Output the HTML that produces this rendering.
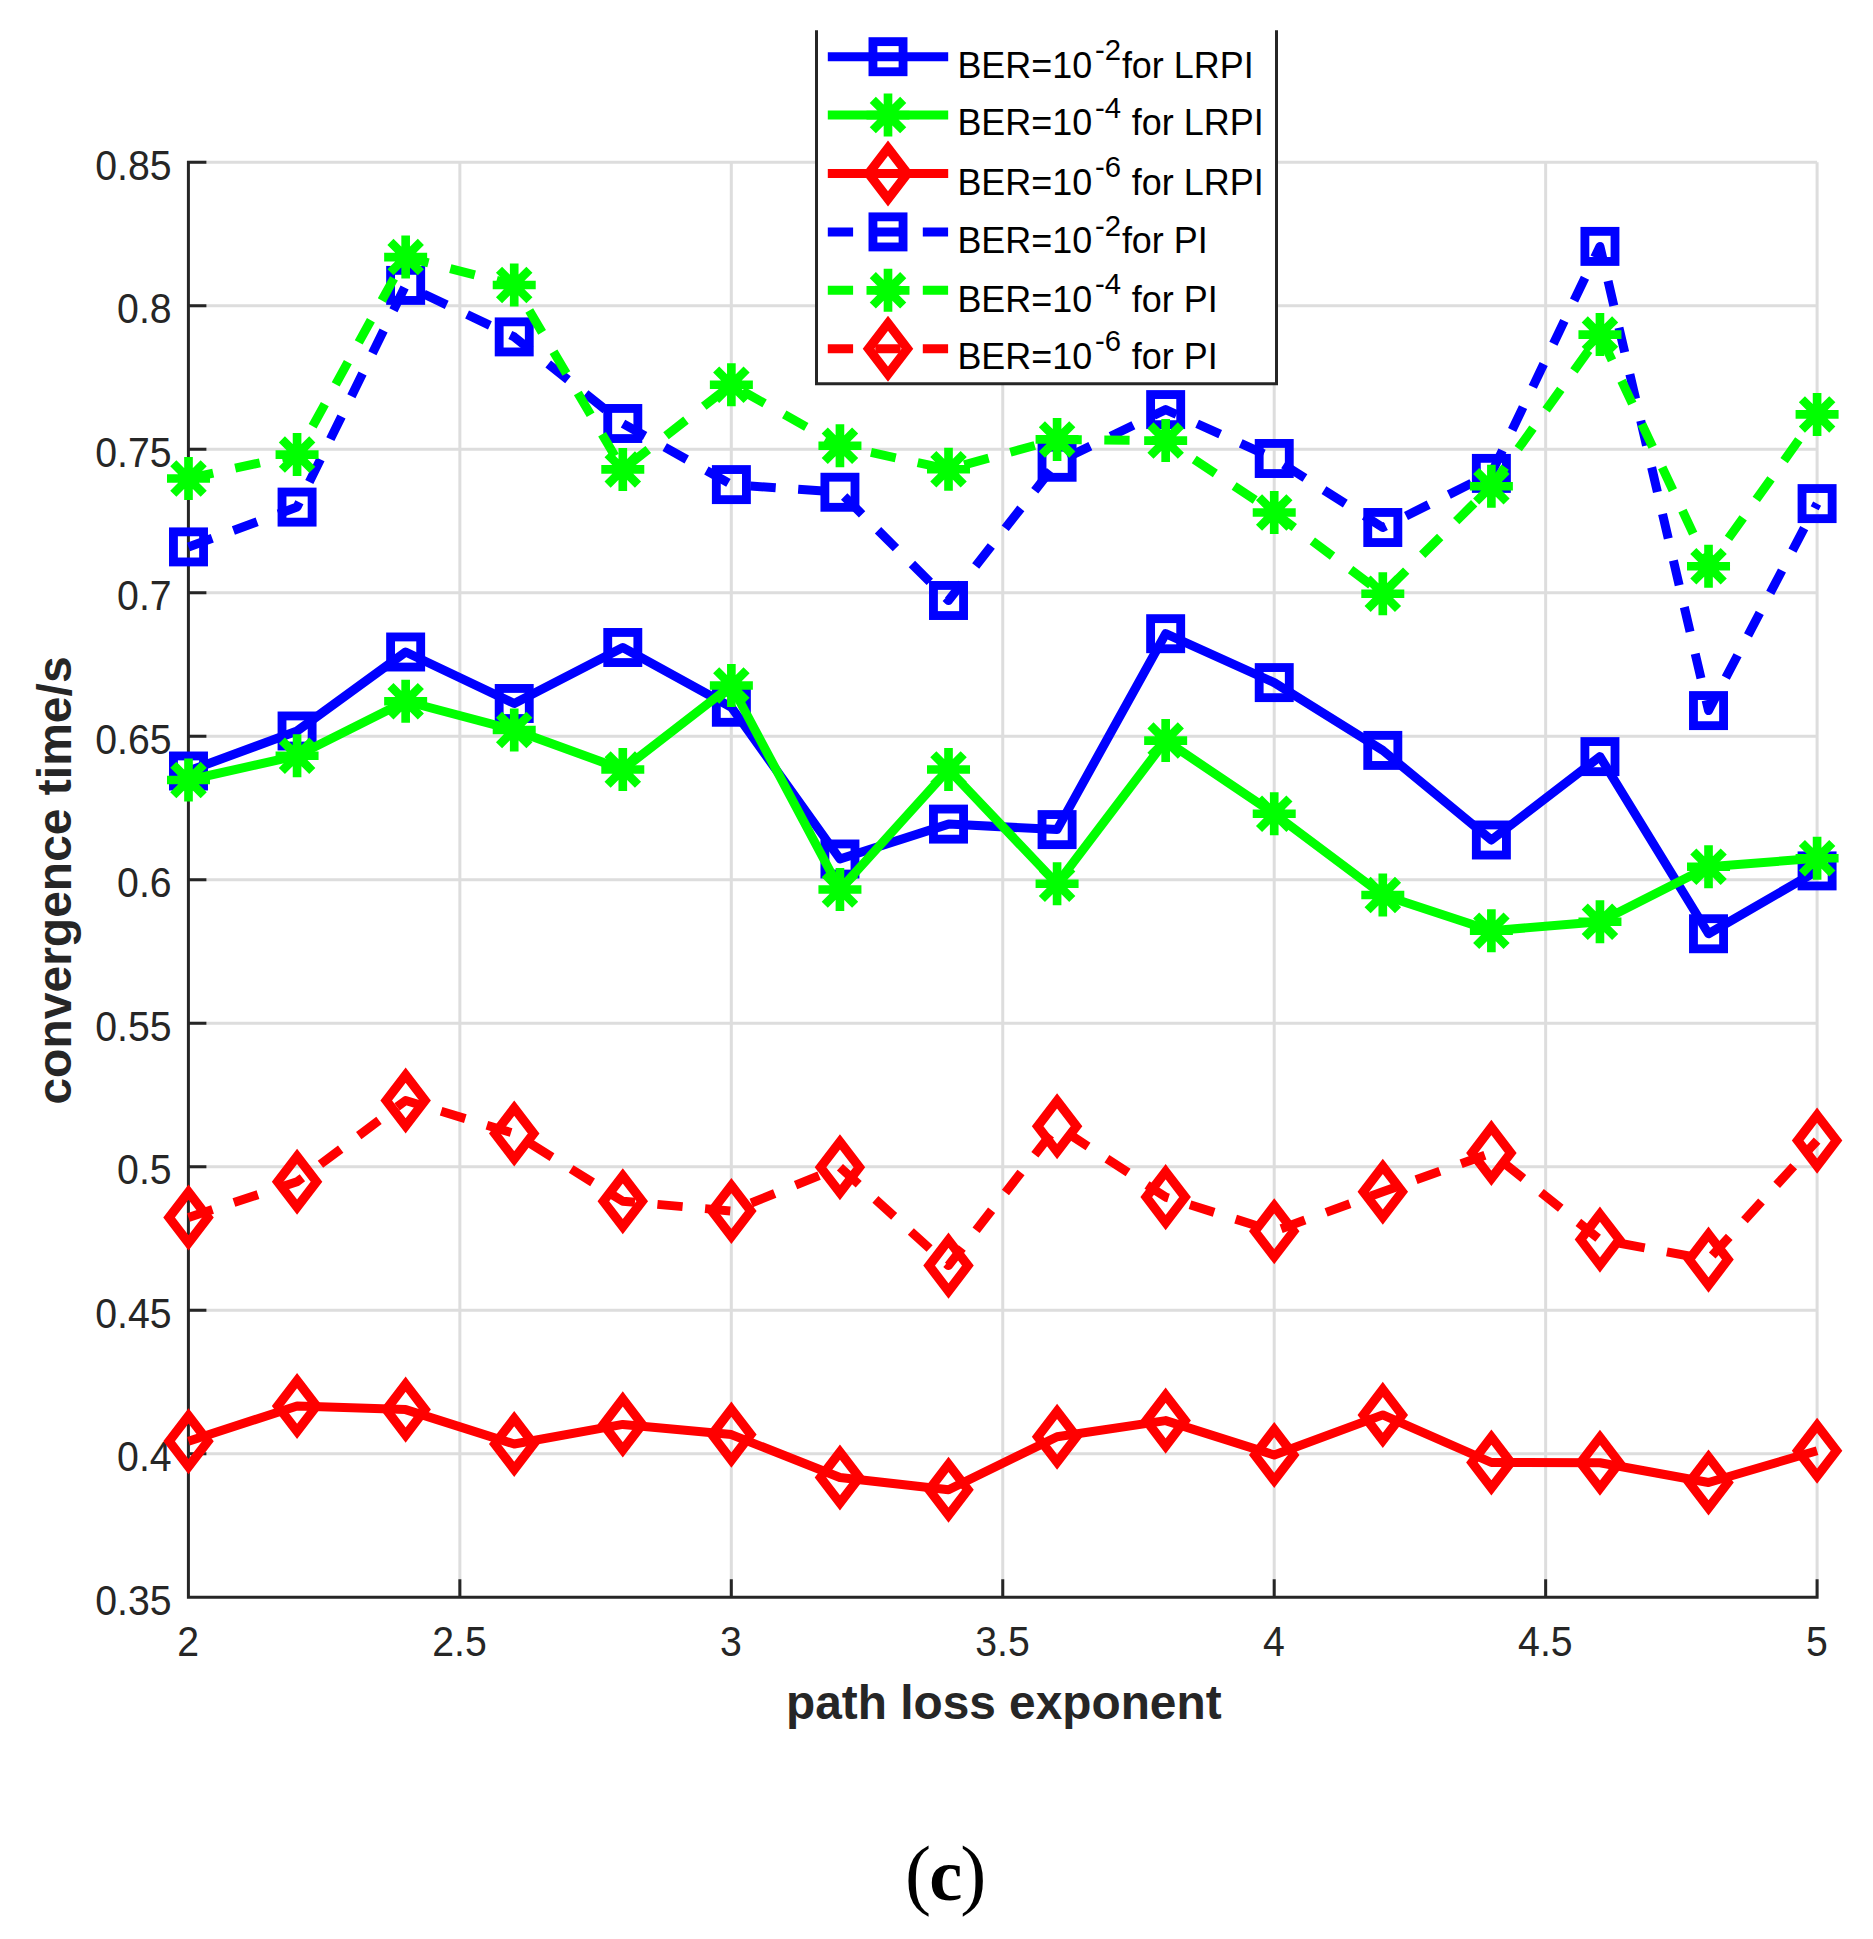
<!DOCTYPE html>
<html lang="en"><head><meta charset="utf-8"><title>Convergence time vs path loss exponent (c)</title>
<style>html,body{margin:0;padding:0;background:#fff}body{width:1873px;height:1939px;overflow:hidden}svg text{white-space:pre}</style>
</head><body>
<svg width="1873" height="1939" viewBox="0 0 1873 1939" style="display:block">
<rect width="1873" height="1939" fill="#fff"/>
<path d="M459.85 162.3V1597.3M731.3 162.3V1597.3M1002.75 162.3V1597.3M1274.2 162.3V1597.3M1545.65 162.3V1597.3M1817.1 162.3V1597.3M188.4 162.3H1817.1M188.4 305.8H1817.1M188.4 449.3H1817.1M188.4 592.8H1817.1M188.4 736.3H1817.1M188.4 879.8H1817.1M188.4 1023.3H1817.1M188.4 1166.8H1817.1M188.4 1310.3H1817.1M188.4 1453.8H1817.1" stroke="#dddddd" stroke-width="3.0" fill="none"/>
<path d="M188.4 160.8V1597.3H1818.6M188.4 1597.3V1579.3M459.85 1597.3V1579.3M731.3 1597.3V1579.3M1002.75 1597.3V1579.3M1274.2 1597.3V1579.3M1545.65 1597.3V1579.3M1817.1 1597.3V1579.3M188.4 162.3H206.4M188.4 305.8H206.4M188.4 449.3H206.4M188.4 592.8H206.4M188.4 736.3H206.4M188.4 879.8H206.4M188.4 1023.3H206.4M188.4 1166.8H206.4M188.4 1310.3H206.4M188.4 1453.8H206.4M188.4 1597.3H206.4" stroke="#262626" stroke-width="3.0" fill="none" stroke-linejoin="miter"/>
<g font-family="'Liberation Sans', sans-serif" font-size="42.1" fill="#262626">
<text transform="translate(188.1 1655.9) scale(0.932 1)" text-anchor="middle">2</text>
<text transform="translate(459.55 1655.9) scale(0.932 1)" text-anchor="middle">2.5</text>
<text transform="translate(731 1655.9) scale(0.932 1)" text-anchor="middle">3</text>
<text transform="translate(1002.45 1655.9) scale(0.932 1)" text-anchor="middle">3.5</text>
<text transform="translate(1273.9 1655.9) scale(0.932 1)" text-anchor="middle">4</text>
<text transform="translate(1545.35 1655.9) scale(0.932 1)" text-anchor="middle">4.5</text>
<text transform="translate(1816.8 1655.9) scale(0.932 1)" text-anchor="middle">5</text>
<text transform="translate(171.6 179.6) scale(0.932 1)" text-anchor="end">0.85</text>
<text transform="translate(171.6 323.1) scale(0.932 1)" text-anchor="end">0.8</text>
<text transform="translate(171.6 466.6) scale(0.932 1)" text-anchor="end">0.75</text>
<text transform="translate(171.6 610.1) scale(0.932 1)" text-anchor="end">0.7</text>
<text transform="translate(171.6 753.6) scale(0.932 1)" text-anchor="end">0.65</text>
<text transform="translate(171.6 897.1) scale(0.932 1)" text-anchor="end">0.6</text>
<text transform="translate(171.6 1040.6) scale(0.932 1)" text-anchor="end">0.55</text>
<text transform="translate(171.6 1184.1) scale(0.932 1)" text-anchor="end">0.5</text>
<text transform="translate(171.6 1327.6) scale(0.932 1)" text-anchor="end">0.45</text>
<text transform="translate(171.6 1471.1) scale(0.932 1)" text-anchor="end">0.4</text>
<text transform="translate(171.6 1614.6) scale(0.932 1)" text-anchor="end">0.35</text>
</g>
<text x="1003.8" y="1719" text-anchor="middle" font-family="'Liberation Sans', sans-serif" font-weight="bold" font-size="47.8" fill="#262626">path loss exponent</text>
<text transform="translate(70.7 880.5) rotate(-90)" text-anchor="middle" font-family="'Liberation Sans', sans-serif" font-weight="bold" font-size="48" fill="#262626">convergence time/s</text>
<polyline points="188.5,771 297.07,731 405.65,652 514.22,703.5 622.79,647.5 731.37,707.25 839.94,859 948.51,824.1 1057.08,829.6 1165.66,633.7 1274.23,682.6 1382.8,750.4 1491.38,840 1599.95,756.6 1708.52,933.75 1817.09,870.9" fill="none" stroke="#0000ff" stroke-width="9.0" stroke-linejoin="round" stroke-linecap="butt"/>
<g><rect x="173.45" y="755.95" width="30.1" height="30.1" fill="none" stroke="#0000ff" stroke-width="8.85"/><rect x="282.02" y="715.95" width="30.1" height="30.1" fill="none" stroke="#0000ff" stroke-width="8.85"/><rect x="390.6" y="636.95" width="30.1" height="30.1" fill="none" stroke="#0000ff" stroke-width="8.85"/><rect x="499.17" y="688.45" width="30.1" height="30.1" fill="none" stroke="#0000ff" stroke-width="8.85"/><rect x="607.74" y="632.45" width="30.1" height="30.1" fill="none" stroke="#0000ff" stroke-width="8.85"/><rect x="716.32" y="692.2" width="30.1" height="30.1" fill="none" stroke="#0000ff" stroke-width="8.85"/><rect x="824.89" y="843.95" width="30.1" height="30.1" fill="none" stroke="#0000ff" stroke-width="8.85"/><rect x="933.46" y="809.05" width="30.1" height="30.1" fill="none" stroke="#0000ff" stroke-width="8.85"/><rect x="1042.03" y="814.55" width="30.1" height="30.1" fill="none" stroke="#0000ff" stroke-width="8.85"/><rect x="1150.61" y="618.65" width="30.1" height="30.1" fill="none" stroke="#0000ff" stroke-width="8.85"/><rect x="1259.18" y="667.55" width="30.1" height="30.1" fill="none" stroke="#0000ff" stroke-width="8.85"/><rect x="1367.75" y="735.35" width="30.1" height="30.1" fill="none" stroke="#0000ff" stroke-width="8.85"/><rect x="1476.33" y="824.95" width="30.1" height="30.1" fill="none" stroke="#0000ff" stroke-width="8.85"/><rect x="1584.9" y="741.55" width="30.1" height="30.1" fill="none" stroke="#0000ff" stroke-width="8.85"/><rect x="1693.47" y="918.7" width="30.1" height="30.1" fill="none" stroke="#0000ff" stroke-width="8.85"/><rect x="1802.04" y="855.85" width="30.1" height="30.1" fill="none" stroke="#0000ff" stroke-width="8.85"/></g>
<polyline points="188.5,780 297.07,755.75 405.65,701.25 514.22,730 622.79,769.5 731.37,685.5 839.94,889.5 948.51,769.5 1057.08,883.75 1165.66,740.6 1274.23,813.75 1382.8,895 1491.38,930.75 1599.95,921.75 1708.52,866.75 1817.09,858.25" fill="none" stroke="#00ff00" stroke-width="9.0" stroke-linejoin="round" stroke-linecap="butt"/>
<g><path d="M167 780H210M188.5 758.5V801.5M173.3 764.8L203.7 795.2M173.3 795.2L203.7 764.8" fill="none" stroke="#00ff00" stroke-width="8.65"/><path d="M275.57 755.75H318.57M297.07 734.25V777.25M281.87 740.55L312.28 770.95M281.87 770.95L312.28 740.55" fill="none" stroke="#00ff00" stroke-width="8.65"/><path d="M384.15 701.25H427.15M405.65 679.75V722.75M390.44 686.05L420.85 716.45M390.44 716.45L420.85 686.05" fill="none" stroke="#00ff00" stroke-width="8.65"/><path d="M492.72 730H535.72M514.22 708.5V751.5M499.02 714.8L529.42 745.2M499.02 745.2L529.42 714.8" fill="none" stroke="#00ff00" stroke-width="8.65"/><path d="M601.29 769.5H644.29M622.79 748V791M607.59 754.3L637.99 784.7M607.59 784.7L637.99 754.3" fill="none" stroke="#00ff00" stroke-width="8.65"/><path d="M709.87 685.5H752.87M731.37 664V707M716.16 670.3L746.57 700.7M716.16 700.7L746.57 670.3" fill="none" stroke="#00ff00" stroke-width="8.65"/><path d="M818.44 889.5H861.44M839.94 868V911M824.74 874.3L855.14 904.7M824.74 904.7L855.14 874.3" fill="none" stroke="#00ff00" stroke-width="8.65"/><path d="M927.01 769.5H970.01M948.51 748V791M933.31 754.3L963.71 784.7M933.31 784.7L963.71 754.3" fill="none" stroke="#00ff00" stroke-width="8.65"/><path d="M1035.58 883.75H1078.58M1057.08 862.25V905.25M1041.88 868.55L1072.29 898.95M1041.88 898.95L1072.29 868.55" fill="none" stroke="#00ff00" stroke-width="8.65"/><path d="M1144.16 740.6H1187.16M1165.66 719.1V762.1M1150.45 725.4L1180.86 755.8M1150.45 755.8L1180.86 725.4" fill="none" stroke="#00ff00" stroke-width="8.65"/><path d="M1252.73 813.75H1295.73M1274.23 792.25V835.25M1259.03 798.55L1289.43 828.95M1259.03 828.95L1289.43 798.55" fill="none" stroke="#00ff00" stroke-width="8.65"/><path d="M1361.3 895H1404.3M1382.8 873.5V916.5M1367.6 879.8L1398.01 910.2M1367.6 910.2L1398.01 879.8" fill="none" stroke="#00ff00" stroke-width="8.65"/><path d="M1469.88 930.75H1512.88M1491.38 909.25V952.25M1476.17 915.55L1506.58 945.95M1476.17 945.95L1506.58 915.55" fill="none" stroke="#00ff00" stroke-width="8.65"/><path d="M1578.45 921.75H1621.45M1599.95 900.25V943.25M1584.75 906.55L1615.15 936.95M1584.75 936.95L1615.15 906.55" fill="none" stroke="#00ff00" stroke-width="8.65"/><path d="M1687.02 866.75H1730.02M1708.52 845.25V888.25M1693.32 851.55L1723.72 881.95M1693.32 881.95L1723.72 851.55" fill="none" stroke="#00ff00" stroke-width="8.65"/><path d="M1795.59 858.25H1838.59M1817.09 836.75V879.75M1801.89 843.05L1832.3 873.45M1801.89 873.45L1832.3 843.05" fill="none" stroke="#00ff00" stroke-width="8.65"/></g>
<polyline points="188.5,1441.25 297.07,1406 405.65,1409.6 514.22,1444 622.79,1424.4 731.37,1434.6 839.94,1477.5 948.51,1489.75 1057.08,1436.75 1165.66,1420.6 1274.23,1455 1382.8,1414.9 1491.38,1462.5 1599.95,1462.75 1708.52,1482.5 1817.09,1450.75" fill="none" stroke="#ff0000" stroke-width="9.0" stroke-linejoin="round" stroke-linecap="butt"/>
<g><path d="M188.5 1415.85L207.9 1441.25L188.5 1466.65L169.1 1441.25Z" fill="none" stroke="#ff0000" stroke-width="9.3" stroke-linejoin="miter" stroke-miterlimit="10"/><path d="M297.07 1380.6L316.47 1406L297.07 1431.4L277.67 1406Z" fill="none" stroke="#ff0000" stroke-width="9.3" stroke-linejoin="miter" stroke-miterlimit="10"/><path d="M405.65 1384.2L425.05 1409.6L405.65 1435L386.25 1409.6Z" fill="none" stroke="#ff0000" stroke-width="9.3" stroke-linejoin="miter" stroke-miterlimit="10"/><path d="M514.22 1418.6L533.62 1444L514.22 1469.4L494.82 1444Z" fill="none" stroke="#ff0000" stroke-width="9.3" stroke-linejoin="miter" stroke-miterlimit="10"/><path d="M622.79 1399L642.19 1424.4L622.79 1449.8L603.39 1424.4Z" fill="none" stroke="#ff0000" stroke-width="9.3" stroke-linejoin="miter" stroke-miterlimit="10"/><path d="M731.37 1409.2L750.76 1434.6L731.37 1460L711.97 1434.6Z" fill="none" stroke="#ff0000" stroke-width="9.3" stroke-linejoin="miter" stroke-miterlimit="10"/><path d="M839.94 1452.1L859.34 1477.5L839.94 1502.9L820.54 1477.5Z" fill="none" stroke="#ff0000" stroke-width="9.3" stroke-linejoin="miter" stroke-miterlimit="10"/><path d="M948.51 1464.35L967.91 1489.75L948.51 1515.15L929.11 1489.75Z" fill="none" stroke="#ff0000" stroke-width="9.3" stroke-linejoin="miter" stroke-miterlimit="10"/><path d="M1057.08 1411.35L1076.48 1436.75L1057.08 1462.15L1037.68 1436.75Z" fill="none" stroke="#ff0000" stroke-width="9.3" stroke-linejoin="miter" stroke-miterlimit="10"/><path d="M1165.66 1395.2L1185.06 1420.6L1165.66 1446L1146.26 1420.6Z" fill="none" stroke="#ff0000" stroke-width="9.3" stroke-linejoin="miter" stroke-miterlimit="10"/><path d="M1274.23 1429.6L1293.63 1455L1274.23 1480.4L1254.83 1455Z" fill="none" stroke="#ff0000" stroke-width="9.3" stroke-linejoin="miter" stroke-miterlimit="10"/><path d="M1382.8 1389.5L1402.2 1414.9L1382.8 1440.3L1363.4 1414.9Z" fill="none" stroke="#ff0000" stroke-width="9.3" stroke-linejoin="miter" stroke-miterlimit="10"/><path d="M1491.38 1437.1L1510.78 1462.5L1491.38 1487.9L1471.98 1462.5Z" fill="none" stroke="#ff0000" stroke-width="9.3" stroke-linejoin="miter" stroke-miterlimit="10"/><path d="M1599.95 1437.35L1619.35 1462.75L1599.95 1488.15L1580.55 1462.75Z" fill="none" stroke="#ff0000" stroke-width="9.3" stroke-linejoin="miter" stroke-miterlimit="10"/><path d="M1708.52 1457.1L1727.92 1482.5L1708.52 1507.9L1689.12 1482.5Z" fill="none" stroke="#ff0000" stroke-width="9.3" stroke-linejoin="miter" stroke-miterlimit="10"/><path d="M1817.09 1425.35L1836.49 1450.75L1817.09 1476.15L1797.69 1450.75Z" fill="none" stroke="#ff0000" stroke-width="9.3" stroke-linejoin="miter" stroke-miterlimit="10"/></g>
<polyline points="188.5,546.9 297.07,507.1 405.65,285.4 514.22,336.9 622.79,423.5 731.37,484.6 839.94,492.25 948.51,600.5 1057.08,462.25 1165.66,409.6 1274.23,458.5 1382.8,527.5 1491.38,473.4 1599.95,246.4 1708.52,710.6 1817.09,503.6" fill="none" stroke="#0000ff" stroke-width="9.0" stroke-dasharray="25.3 22.53" stroke-linejoin="round" stroke-linecap="butt"/>
<g><rect x="173.45" y="531.85" width="30.1" height="30.1" fill="none" stroke="#0000ff" stroke-width="8.85"/><rect x="282.02" y="492.05" width="30.1" height="30.1" fill="none" stroke="#0000ff" stroke-width="8.85"/><rect x="390.6" y="270.35" width="30.1" height="30.1" fill="none" stroke="#0000ff" stroke-width="8.85"/><rect x="499.17" y="321.85" width="30.1" height="30.1" fill="none" stroke="#0000ff" stroke-width="8.85"/><rect x="607.74" y="408.45" width="30.1" height="30.1" fill="none" stroke="#0000ff" stroke-width="8.85"/><rect x="716.32" y="469.55" width="30.1" height="30.1" fill="none" stroke="#0000ff" stroke-width="8.85"/><rect x="824.89" y="477.2" width="30.1" height="30.1" fill="none" stroke="#0000ff" stroke-width="8.85"/><rect x="933.46" y="585.45" width="30.1" height="30.1" fill="none" stroke="#0000ff" stroke-width="8.85"/><rect x="1042.03" y="447.2" width="30.1" height="30.1" fill="none" stroke="#0000ff" stroke-width="8.85"/><rect x="1150.61" y="394.55" width="30.1" height="30.1" fill="none" stroke="#0000ff" stroke-width="8.85"/><rect x="1259.18" y="443.45" width="30.1" height="30.1" fill="none" stroke="#0000ff" stroke-width="8.85"/><rect x="1367.75" y="512.45" width="30.1" height="30.1" fill="none" stroke="#0000ff" stroke-width="8.85"/><rect x="1476.33" y="458.35" width="30.1" height="30.1" fill="none" stroke="#0000ff" stroke-width="8.85"/><rect x="1584.9" y="231.35" width="30.1" height="30.1" fill="none" stroke="#0000ff" stroke-width="8.85"/><rect x="1693.47" y="695.55" width="30.1" height="30.1" fill="none" stroke="#0000ff" stroke-width="8.85"/><rect x="1802.04" y="488.55" width="30.1" height="30.1" fill="none" stroke="#0000ff" stroke-width="8.85"/></g>
<polyline points="188.5,478.5 297.07,454.6 405.65,257.1 514.22,285 622.79,469.4 731.37,384.75 839.94,445.75 948.51,469.25 1057.08,439.4 1165.66,440.6 1274.23,512.5 1382.8,593.75 1491.38,486.25 1599.95,334.6 1708.52,566.25 1817.09,414.4" fill="none" stroke="#00ff00" stroke-width="9.0" stroke-dasharray="25.3 22.53" stroke-linejoin="round" stroke-linecap="butt"/>
<g><path d="M167 478.5H210M188.5 457V500M173.3 463.3L203.7 493.7M173.3 493.7L203.7 463.3" fill="none" stroke="#00ff00" stroke-width="8.65"/><path d="M275.57 454.6H318.57M297.07 433.1V476.1M281.87 439.4L312.28 469.8M281.87 469.8L312.28 439.4" fill="none" stroke="#00ff00" stroke-width="8.65"/><path d="M384.15 257.1H427.15M405.65 235.6V278.6M390.44 241.9L420.85 272.3M390.44 272.3L420.85 241.9" fill="none" stroke="#00ff00" stroke-width="8.65"/><path d="M492.72 285H535.72M514.22 263.5V306.5M499.02 269.8L529.42 300.2M499.02 300.2L529.42 269.8" fill="none" stroke="#00ff00" stroke-width="8.65"/><path d="M601.29 469.4H644.29M622.79 447.9V490.9M607.59 454.2L637.99 484.6M607.59 484.6L637.99 454.2" fill="none" stroke="#00ff00" stroke-width="8.65"/><path d="M709.87 384.75H752.87M731.37 363.25V406.25M716.16 369.55L746.57 399.95M716.16 399.95L746.57 369.55" fill="none" stroke="#00ff00" stroke-width="8.65"/><path d="M818.44 445.75H861.44M839.94 424.25V467.25M824.74 430.55L855.14 460.95M824.74 460.95L855.14 430.55" fill="none" stroke="#00ff00" stroke-width="8.65"/><path d="M927.01 469.25H970.01M948.51 447.75V490.75M933.31 454.05L963.71 484.45M933.31 484.45L963.71 454.05" fill="none" stroke="#00ff00" stroke-width="8.65"/><path d="M1035.58 439.4H1078.58M1057.08 417.9V460.9M1041.88 424.2L1072.29 454.6M1041.88 454.6L1072.29 424.2" fill="none" stroke="#00ff00" stroke-width="8.65"/><path d="M1144.16 440.6H1187.16M1165.66 419.1V462.1M1150.45 425.4L1180.86 455.8M1150.45 455.8L1180.86 425.4" fill="none" stroke="#00ff00" stroke-width="8.65"/><path d="M1252.73 512.5H1295.73M1274.23 491V534M1259.03 497.3L1289.43 527.7M1259.03 527.7L1289.43 497.3" fill="none" stroke="#00ff00" stroke-width="8.65"/><path d="M1361.3 593.75H1404.3M1382.8 572.25V615.25M1367.6 578.55L1398.01 608.95M1367.6 608.95L1398.01 578.55" fill="none" stroke="#00ff00" stroke-width="8.65"/><path d="M1469.88 486.25H1512.88M1491.38 464.75V507.75M1476.17 471.05L1506.58 501.45M1476.17 501.45L1506.58 471.05" fill="none" stroke="#00ff00" stroke-width="8.65"/><path d="M1578.45 334.6H1621.45M1599.95 313.1V356.1M1584.75 319.4L1615.15 349.8M1584.75 349.8L1615.15 319.4" fill="none" stroke="#00ff00" stroke-width="8.65"/><path d="M1687.02 566.25H1730.02M1708.52 544.75V587.75M1693.32 551.05L1723.72 581.45M1693.32 581.45L1723.72 551.05" fill="none" stroke="#00ff00" stroke-width="8.65"/><path d="M1795.59 414.4H1838.59M1817.09 392.9V435.9M1801.89 399.2L1832.3 429.6M1801.89 429.6L1832.3 399.2" fill="none" stroke="#00ff00" stroke-width="8.65"/></g>
<polyline points="188.5,1217.5 297.07,1181.75 405.65,1100.5 514.22,1133.5 622.79,1201.25 731.37,1211 839.94,1167.25 948.51,1265.6 1057.08,1126.25 1165.66,1197.1 1274.23,1231.25 1382.8,1191.75 1491.38,1152.9 1599.95,1239.6 1708.52,1259.6 1817.09,1140.6" fill="none" stroke="#ff0000" stroke-width="9.0" stroke-dasharray="25.3 22.53" stroke-linejoin="round" stroke-linecap="butt"/>
<g><path d="M188.5 1192.1L207.9 1217.5L188.5 1242.9L169.1 1217.5Z" fill="none" stroke="#ff0000" stroke-width="9.3" stroke-linejoin="miter" stroke-miterlimit="10"/><path d="M297.07 1156.35L316.47 1181.75L297.07 1207.15L277.67 1181.75Z" fill="none" stroke="#ff0000" stroke-width="9.3" stroke-linejoin="miter" stroke-miterlimit="10"/><path d="M405.65 1075.1L425.05 1100.5L405.65 1125.9L386.25 1100.5Z" fill="none" stroke="#ff0000" stroke-width="9.3" stroke-linejoin="miter" stroke-miterlimit="10"/><path d="M514.22 1108.1L533.62 1133.5L514.22 1158.9L494.82 1133.5Z" fill="none" stroke="#ff0000" stroke-width="9.3" stroke-linejoin="miter" stroke-miterlimit="10"/><path d="M622.79 1175.85L642.19 1201.25L622.79 1226.65L603.39 1201.25Z" fill="none" stroke="#ff0000" stroke-width="9.3" stroke-linejoin="miter" stroke-miterlimit="10"/><path d="M731.37 1185.6L750.76 1211L731.37 1236.4L711.97 1211Z" fill="none" stroke="#ff0000" stroke-width="9.3" stroke-linejoin="miter" stroke-miterlimit="10"/><path d="M839.94 1141.85L859.34 1167.25L839.94 1192.65L820.54 1167.25Z" fill="none" stroke="#ff0000" stroke-width="9.3" stroke-linejoin="miter" stroke-miterlimit="10"/><path d="M948.51 1240.2L967.91 1265.6L948.51 1291L929.11 1265.6Z" fill="none" stroke="#ff0000" stroke-width="9.3" stroke-linejoin="miter" stroke-miterlimit="10"/><path d="M1057.08 1100.85L1076.48 1126.25L1057.08 1151.65L1037.68 1126.25Z" fill="none" stroke="#ff0000" stroke-width="9.3" stroke-linejoin="miter" stroke-miterlimit="10"/><path d="M1165.66 1171.7L1185.06 1197.1L1165.66 1222.5L1146.26 1197.1Z" fill="none" stroke="#ff0000" stroke-width="9.3" stroke-linejoin="miter" stroke-miterlimit="10"/><path d="M1274.23 1205.85L1293.63 1231.25L1274.23 1256.65L1254.83 1231.25Z" fill="none" stroke="#ff0000" stroke-width="9.3" stroke-linejoin="miter" stroke-miterlimit="10"/><path d="M1382.8 1166.35L1402.2 1191.75L1382.8 1217.15L1363.4 1191.75Z" fill="none" stroke="#ff0000" stroke-width="9.3" stroke-linejoin="miter" stroke-miterlimit="10"/><path d="M1491.38 1127.5L1510.78 1152.9L1491.38 1178.3L1471.98 1152.9Z" fill="none" stroke="#ff0000" stroke-width="9.3" stroke-linejoin="miter" stroke-miterlimit="10"/><path d="M1599.95 1214.2L1619.35 1239.6L1599.95 1265L1580.55 1239.6Z" fill="none" stroke="#ff0000" stroke-width="9.3" stroke-linejoin="miter" stroke-miterlimit="10"/><path d="M1708.52 1234.2L1727.92 1259.6L1708.52 1285L1689.12 1259.6Z" fill="none" stroke="#ff0000" stroke-width="9.3" stroke-linejoin="miter" stroke-miterlimit="10"/><path d="M1817.09 1115.2L1836.49 1140.6L1817.09 1166L1797.69 1140.6Z" fill="none" stroke="#ff0000" stroke-width="9.3" stroke-linejoin="miter" stroke-miterlimit="10"/></g>
<rect x="816.5" y="30.3" width="460.0" height="353.45" fill="#fff"/>
<path d="M816.5 30.3V383.75H1276.5V30.3" fill="none" stroke="#262626" stroke-width="3.0" stroke-linejoin="miter"/>
<g font-family="'Liberation Sans', sans-serif" font-size="36.8" fill="#000">
<path d="M827.8 56.7H948.2" stroke="#0000ff" stroke-width="9.0" fill="none"/>
<rect x="872.95" y="41.65" width="30.1" height="30.1" fill="none" stroke="#0000ff" stroke-width="8.85"/>
<text transform="translate(957.4 77.6) scale(0.976 1)" xml:space="preserve">BER=10<tspan dx="2.9" dy="-17.2" font-size="30">-2</tspan><tspan dx="0.9" dy="17.2">for LRPI</tspan></text>
<path d="M827.8 115.1H948.2" stroke="#00ff00" stroke-width="9.0" fill="none"/>
<path d="M866.5 115.1H909.5M888 93.6V136.6M872.8 99.9L903.2 130.3M872.8 130.3L903.2 99.9" fill="none" stroke="#00ff00" stroke-width="8.65"/>
<text transform="translate(957.4 134.7) scale(0.976 1)" xml:space="preserve">BER=10<tspan dx="2.9" dy="-17.2" font-size="30">-4</tspan><tspan dx="0.9" dy="17.2"> for LRPI</tspan></text>
<path d="M827.8 173.5H948.2" stroke="#ff0000" stroke-width="9.0" fill="none"/>
<path d="M888 148.1L907.4 173.5L888 198.9L868.6 173.5Z" fill="none" stroke="#ff0000" stroke-width="9.3" stroke-linejoin="miter" stroke-miterlimit="10"/>
<text transform="translate(957.4 194.6) scale(0.976 1)" xml:space="preserve">BER=10<tspan dx="2.9" dy="-17.2" font-size="30">-6</tspan><tspan dx="0.9" dy="17.2"> for LRPI</tspan></text>
<path d="M827.8 231.9H948.2" stroke="#0000ff" stroke-width="9.0" stroke-dasharray="25.3 22.2" fill="none"/>
<rect x="872.95" y="216.85" width="30.1" height="30.1" fill="none" stroke="#0000ff" stroke-width="8.85"/>
<text transform="translate(957.4 252.9) scale(0.976 1)" xml:space="preserve">BER=10<tspan dx="2.9" dy="-17.2" font-size="30">-2</tspan><tspan dx="0.9" dy="17.2">for PI</tspan></text>
<path d="M827.8 290.3H948.2" stroke="#00ff00" stroke-width="9.0" stroke-dasharray="25.3 22.2" fill="none"/>
<path d="M866.5 290.3H909.5M888 268.8V311.8M872.8 275.1L903.2 305.5M872.8 305.5L903.2 275.1" fill="none" stroke="#00ff00" stroke-width="8.65"/>
<text transform="translate(957.4 311.6) scale(0.976 1)" xml:space="preserve">BER=10<tspan dx="2.9" dy="-17.2" font-size="30">-4</tspan><tspan dx="0.9" dy="17.2"> for PI</tspan></text>
<path d="M827.8 348.7H948.2" stroke="#ff0000" stroke-width="9.0" stroke-dasharray="25.3 22.2" fill="none"/>
<path d="M888 323.3L907.4 348.7L888 374.1L868.6 348.7Z" fill="none" stroke="#ff0000" stroke-width="9.3" stroke-linejoin="miter" stroke-miterlimit="10"/>
<text transform="translate(957.4 368.6) scale(0.976 1)" xml:space="preserve">BER=10<tspan dx="2.9" dy="-17.2" font-size="30">-6</tspan><tspan dx="0.9" dy="17.2"> for PI</tspan></text>
</g>
<text y="1900" font-family="'Liberation Serif', serif" fill="#000"><tspan x="905" font-size="78.3">(</tspan><tspan x="929.2" font-size="74.5" font-weight="bold">c</tspan><tspan x="960.3" font-size="78.3">)</tspan></text>
</svg>
</body></html>
